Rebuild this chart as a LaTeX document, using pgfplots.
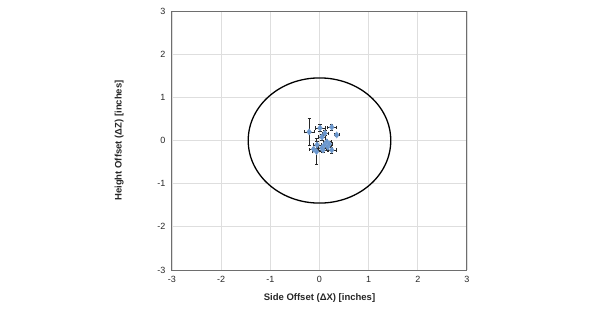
\documentclass[border=0pt]{standalone}
\usepackage{pgfplots}
\pgfplotsset{compat=1.18}
\usepackage{fontspec}
\setmainfont{Liberation Sans}
\definecolor{ptblue}{RGB}{105,150,205}
\definecolor{gridgray}{RGB}{222,222,222}
\definecolor{axgray}{RGB}{110,110,110}
\begin{document}
\begin{tikzpicture}
\useasboundingbox (-172pt,-44pt) rectangle (428pt,270pt);
\begin{axis}[
  scale only axis,
  width=295pt, height=259pt,
  at={(0,0)}, anchor=south west,
  xmin=-3, xmax=3, ymin=-3, ymax=3,
  xtick={-3,...,3}, ytick={-3,...,3},
  grid=major,
  major grid style={gridgray, line width=0.8pt},
  axis line style={axgray, line width=1pt},
  major tick length=0pt,
  tick label style={font=\fontsize{9}{11}\selectfont, text=black!85},
  /pgf/number format/assume math mode=true,
  xticklabel style={yshift=-3pt},
  yticklabel style={xshift=-3pt},
  label style={font=\fontsize{9.5}{11}\selectfont\bfseries, text=black!85},
  xlabel={Side Offset (ΔX) [inches]},
  ylabel={Height Offset (ΔZ) [inches]},
  xlabel style={yshift=-4pt},
  ylabel style={yshift=27pt},
]
\draw[black, line width=1.3pt] (axis cs:0,0) ellipse [x radius=1.45, y radius=1.45];
\addplot+[
  only marks,
  mark=diamond*,
  mark size=3.2pt,
  mark options={fill=ptblue, draw=ptblue!85!white, line width=0.3pt},
  error bars/.cd,
  x dir=both, x explicit,
  y dir=both, y explicit,
  error bar style={black!85, line width=0.6pt},
  error mark options={rotate=90, mark size=1.6pt, black!85, line width=0.6pt},
] table[x=x, y=y, x error=ex, y error=ey] {
x y ex ey
-0.21 0.20 0.10 0.31
0.01 0.29 0.10 0.08
0.25 0.31 0.10 0.07
0.35 0.13 0.05 0.03
0.11 0.17 0.06 0.06
0.05 0.08 0.07 0.07
0.15 -0.03 0.08 0.06
-0.05 -0.10 0.08 0.07
-0.06 -0.26 0.09 0.30
0.07 -0.22 0.10 0.05
0.17 -0.15 0.08 0.06
0.25 -0.22 0.10 0.07
0.05 -0.17 0.08 0.05
0.20 -0.08 0.06 0.06
-0.12 -0.20 0.08 0.05
0.10 -0.10 0.07 0.05
};
\end{axis}
\end{tikzpicture}
\end{document}
